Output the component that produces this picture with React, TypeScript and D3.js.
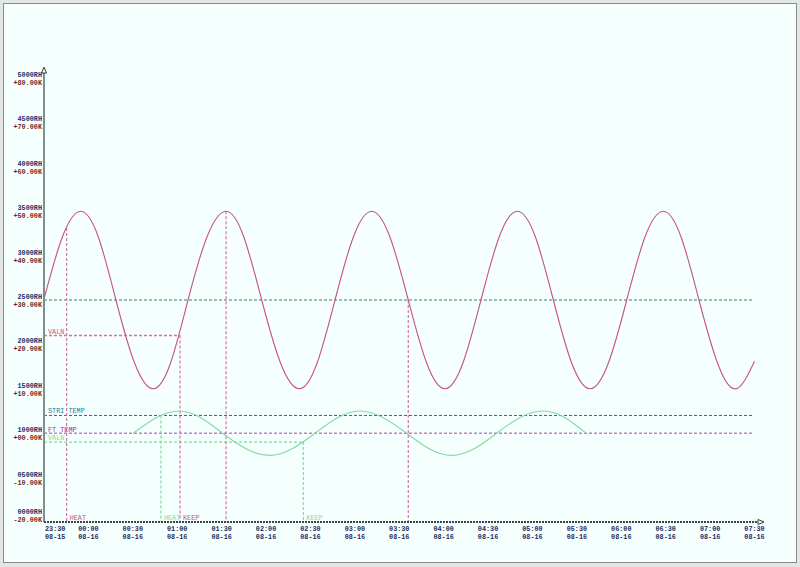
import React, { useEffect, useRef } from "react";
import * as d3 from "d3";

const WIDTH = 800;
const HEIGHT = 567;
const PLOT = { left: 44, right: 754.5, top: 78, bottom: 522 };
const FONT = "'Liberation Mono', 'DejaVu Sans Mono', monospace";

// x axis: minutes since 23:30 (08-15), one tick every 30 min
const tickMinutes = [0, 30, 60, 90, 120, 150, 180, 210, 240, 270, 300, 330, 360, 390, 420, 450, 480];
const timeLabels = ["23:30", "00:00", "00:30", "01:00", "01:30", "02:00", "02:30", "03:00", "03:30",
  "04:00", "04:30", "05:00", "05:30", "06:00", "06:30", "07:00", "07:30"];
const dateLabels = ["08-15", "08-16", "08-16", "08-16", "08-16", "08-16", "08-16", "08-16", "08-16",
  "08-16", "08-16", "08-16", "08-16", "08-16", "08-16", "08-16", "08-16"];

// left axis: humidity (RH) and temperature (K) share the same grid
const rhTicks = [0, 500, 1000, 1500, 2000, 2500, 3000, 3500, 4000, 4500, 5000];
const kTicks = [-20, -10, 0, 10, 20, 30, 40, 50, 60, 70, 80];

// humidity curve (RH)
const rhMinutes = [0, 12.4, 24.8, 36.7, 48.6, 61.2, 73.8, 85.5, 97.3, 110.1, 123, 135, 147.1, 159.8,
  172.5, 184.5, 196.6, 209, 221.4, 233.7, 246.1, 258.5, 270.9, 283, 295.2, 307.5, 319.8, 332, 344.1,
  356.5, 368.9, 381.3, 393.7, 406, 418.4, 430.4, 442.5, 455, 467.5, 480];
const rhValues = [2510, 3210, 3500, 3210, 2500, 1790, 1500, 1790, 2500, 3210, 3500, 3210, 2500, 1790,
  1500, 1790, 2500, 3210, 3500, 3210, 2500, 1790, 1500, 1790, 2500, 3210, 3500, 3210, 2500,
  1790, 1500, 1790, 2500, 3210, 3500, 3210, 2500, 1790, 1500, 1810];

// temperature curve (K)
const tempMinutes = [60.3, 75.8, 91.4, 106, 120.7, 136.5, 152.2, 167.7, 183.1, 198.3, 213.5, 229.2,
  245, 260.2, 275.4, 290.6, 305.8, 321.3, 336.9, 352, 367];
const tempValues = [0, 3.5, 5, 3.5, 0, -3.5, -5, -3.5, 0, 3.5, 5, 3.5, 0, -3.5, -5, -3.5, 0, 3.5, 5, 3.5, -0.2];

// reference levels
const rhLevel = 2500;
const striTemp = 4;
const ftTemp = 0;
const rhValn = 2100;
const tempValn = -2;

// vertical markers
const rhMarkerMinutes = [15.3, 91.9, 123, 246.1];
const rhMarkerTops = [3310, 2100, 3500, 2500];
const rhMarkerLabels = ["HEAT", "KEEP", "", ""];
const tempMarkerMinutes = [79, 175.2];
const tempMarkerTops = [4, -2];
const tempMarkerLabels = ["HEAT", "KEEP"];

const COLORS = {
  rh: "#c6527f",
  rhDash: "#d872a6",
  temp: "#7fdca0",
  level: "#3f7a60",
  stri: "#2a6a80",
  striText: "#2b7a9a",
  ft: "#c080c4",
  ftText: "#a02aa8",
  rhValnText: "#d0508a",
  axisY: "#7f8e8e",
  axisX: "#3c4444",
  rhText: "#1f2f70",
  kText: "#7a1f24",
  xText: "#1f2a60",
};

export default function App() {
  const svgRef = useRef<SVGSVGElement>(null);

  useEffect(() => {
    const svg = svgRef.current;
    if (!svg) return;
    const root = d3.select(svg);
    root.selectAll("*").remove();

    const x = d3.scaleLinear().domain([0, 480]).range([PLOT.left, PLOT.right]);
    const yRH = d3.scaleLinear().domain([0, 5000]).range([PLOT.bottom, PLOT.top]);
    const yK = d3.scaleLinear().domain([-20, 80]).range([PLOT.bottom, PLOT.top]);
    const lineEnd = x(479);

    // Frame
    root.append("rect").attr("width", WIDTH).attr("height", HEIGHT).attr("fill", "#e4e6e6");
    root
      .append("rect")
      .attr("x", 3.5)
      .attr("y", 3.5)
      .attr("width", WIDTH - 7)
      .attr("height", HEIGHT - 8)
      .attr("fill", "#f5fffe")
      .attr("stroke", "#8a8c8c");

    const text = (sel: d3.Selection<SVGGElement, unknown, null, undefined>, tx: number, ty: number,
      s: string, fill: string, anchor = "start", bold = false) =>
      sel
        .append("text")
        .attr("x", tx)
        .attr("y", ty)
        .attr("fill", fill)
        .attr("font-family", FONT)
        .attr("font-size", "6.8px")
        .attr("font-weight", bold ? "bold" : "normal")
        .attr("text-anchor", anchor)
        .style("white-space", "pre")
        .text(s);

    const g = root.append("g");

    // Horizontal reference lines
    const hline = (yv: number, x2: number, color: string, width: number, dash: string) =>
      g
        .append("line")
        .attr("x1", PLOT.left)
        .attr("x2", x2)
        .attr("y1", yv)
        .attr("y2", yv)
        .attr("stroke", color)
        .attr("stroke-width", width)
        .attr("stroke-dasharray", dash);

    hline(yRH(rhLevel), lineEnd, COLORS.level, 1, "3,2");
    hline(yK(striTemp), lineEnd, COLORS.stri, 1, "3,2");
    hline(yK(ftTemp), lineEnd, COLORS.ft, 1.6, "3,2");
    hline(yRH(rhValn), x(rhMarkerMinutes[1]), COLORS.rhDash, 1.6, "3,2");
    hline(yK(tempValn), x(tempMarkerMinutes[1]), COLORS.temp, 1.2, "3,2");

    text(g, 48, yK(striTemp) - 2.5, "STRI TEMP", COLORS.striText);
    text(g, 48, yK(ftTemp) - 1.5, "FT TEMP", COLORS.ftText);
    text(g, 48, yRH(rhValn) - 2, "VALN", COLORS.rhValnText);
    text(g, 48, yK(tempValn) - 2.5, "VALN", COLORS.temp);

    // Vertical markers
    rhMarkerMinutes.forEach((m, i) => {
      g.append("line")
        .attr("x1", x(m))
        .attr("x2", x(m))
        .attr("y1", yRH(rhMarkerTops[i]))
        .attr("y2", PLOT.bottom)
        .attr("stroke", COLORS.rhDash)
        .attr("stroke-width", 1.2)
        .attr("stroke-dasharray", "3,2");
      if (rhMarkerLabels[i]) text(g, x(m) + 3, PLOT.bottom - 2, rhMarkerLabels[i], COLORS.rhValnText);
    });
    tempMarkerMinutes.forEach((m, i) => {
      g.append("line")
        .attr("x1", x(m))
        .attr("x2", x(m))
        .attr("y1", yK(tempMarkerTops[i]))
        .attr("y2", PLOT.bottom)
        .attr("stroke", COLORS.temp)
        .attr("stroke-width", 1.2)
        .attr("stroke-dasharray", "3,2");
      text(g, x(m) + 3, PLOT.bottom - 2, tempMarkerLabels[i], COLORS.temp);
    });

    // Curves
    const rhLine = d3
      .line<number>()
      .x((_, i) => x(rhMinutes[i]))
      .y((d) => yRH(d))
      .curve(d3.curveNatural);
    g.append("path")
      .attr("d", rhLine(rhValues))
      .attr("fill", "none")
      .attr("stroke", COLORS.rh)
      .attr("stroke-width", 1.1);

    const tempLine = d3
      .line<number>()
      .x((_, i) => x(tempMinutes[i]))
      .y((d) => yK(d))
      .curve(d3.curveNatural);
    g.append("path")
      .attr("d", tempLine(tempValues))
      .attr("fill", "none")
      .attr("stroke", COLORS.temp)
      .attr("stroke-width", 1.1);

    // Y axis
    g.append("line")
      .attr("x1", PLOT.left)
      .attr("x2", PLOT.left)
      .attr("y1", PLOT.bottom)
      .attr("y2", 70)
      .attr("stroke", COLORS.axisY)
      .attr("stroke-width", 2);
    g.append("path")
      .attr("d", `M${PLOT.left - 2.5},73 L${PLOT.left},67 L${PLOT.left + 2.5},73 Z`)
      .attr("fill", "#f5fffe")
      .attr("stroke", "#333a3a")
      .attr("stroke-width", 1);

    rhTicks.forEach((v, i) => {
      const ty = yRH(v);
      const shift = Math.min(0, PLOT.bottom - 0.5 - (ty + 7));
      const rhLabel = String(v).padStart(4, "0") + "RH";
      const k = kTicks[i];
      const kLabel = (k < 0 ? "-" : "+") + Math.abs(k).toFixed(2).padStart(5, "0") + "K";
      text(g, PLOT.left - 2, ty - 1 + shift, rhLabel, COLORS.rhText, "end", true);
      text(g, PLOT.left - 2, ty + 7 + shift, kLabel, COLORS.kText, "end", true);
    });

    // X axis
    g.append("line")
      .attr("x1", PLOT.left)
      .attr("x2", 761)
      .attr("y1", PLOT.bottom)
      .attr("y2", PLOT.bottom)
      .attr("stroke", COLORS.axisX)
      .attr("stroke-width", 2)
      .attr("stroke-dasharray", "2,1");
    g.append("path")
      .attr("d", `M758,${PLOT.bottom - 2.5} L764,${PLOT.bottom} L758,${PLOT.bottom + 2.5} Z`)
      .attr("fill", "#f5fffe")
      .attr("stroke", "#333a3a")
      .attr("stroke-width", 1);

    tickMinutes.forEach((m, i) => {
      const first = i === 0;
      const tx = first ? PLOT.left + 1 : x(m);
      const anchor = first ? "start" : "middle";
      text(g, tx, 531, timeLabels[i], COLORS.xText, anchor, true);
      text(g, tx, 538.5, dateLabels[i], COLORS.xText, anchor, true);
    });
  }, []);

  return (
    <div style={{ position: "absolute", left: 0, top: 0 }}>
      <svg ref={svgRef} width={WIDTH} height={HEIGHT} style={{ display: "block" }} />
    </div>
  );
}
